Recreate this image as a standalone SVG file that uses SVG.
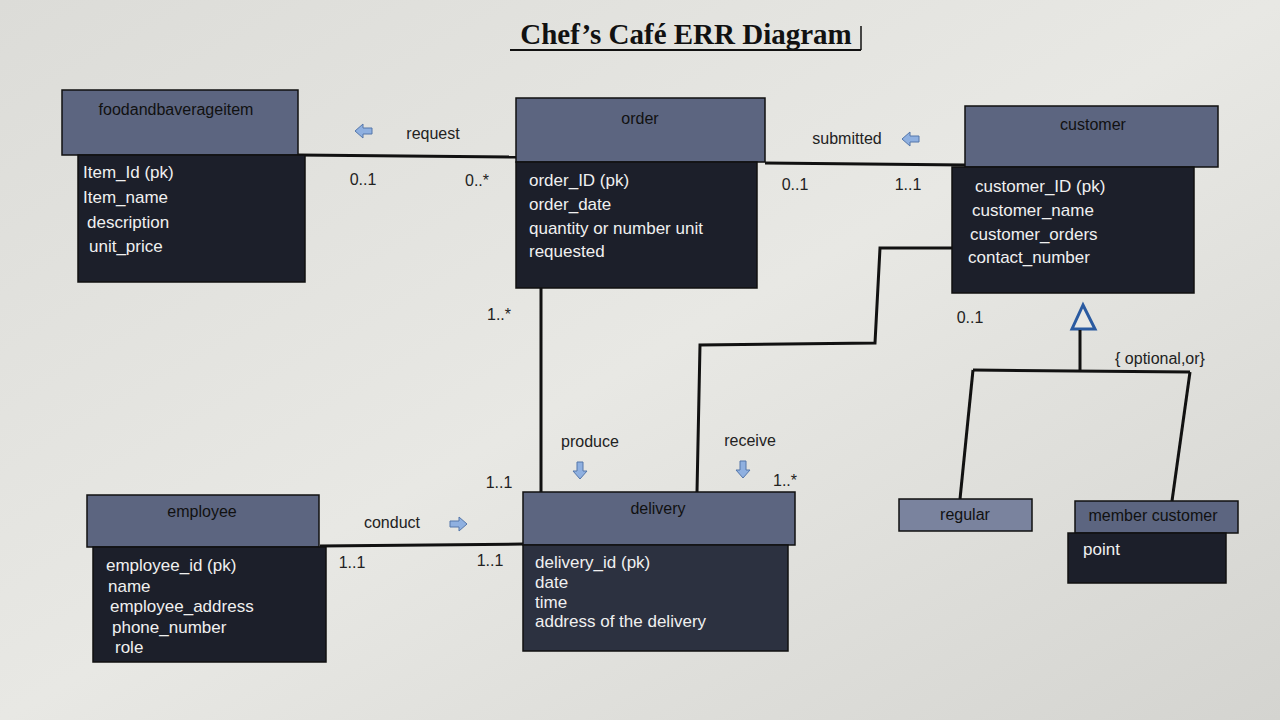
<svg xmlns="http://www.w3.org/2000/svg" width="1280" height="720" viewBox="0 0 1280 720">
<defs>
<linearGradient id="bg" x1="0" y1="0" x2="1" y2="1"><stop offset="0" stop-color="#dcdcd8"/><stop offset="0.5" stop-color="#e8e8e4"/><stop offset="1" stop-color="#d4d4d0"/></linearGradient>
</defs>
<style>
.hd{fill:#5c6580;stroke:#111;stroke-width:1.5}
.bd{fill:#1c1f2a;stroke:#111;stroke-width:1.5}
.ht{font-family:"Liberation Sans",Arial,sans-serif;font-size:16px;fill:#111;text-anchor:middle}
.at{font-family:"Liberation Sans",Arial,sans-serif;font-size:17px;fill:#f0f0f0}
.lb{font-family:"Liberation Sans",Arial,sans-serif;font-size:16px;fill:#222}
.cn{stroke:#111;stroke-width:3;fill:none}
.ic{fill:#8fb0e0;stroke:#5577aa;stroke-width:1}
</style>
<rect width="1280" height="720" fill="url(#bg)"/>
<text x="686" y="44" font-family="Liberation Serif,serif" font-size="29" font-weight="bold" text-anchor="middle" fill="#111">Chef’s Café ERR Diagram</text>
<line x1="510" y1="50" x2="861" y2="50" stroke="#111" stroke-width="2"/>
<line x1="861" y1="26" x2="861" y2="50" stroke="#111" stroke-width="1.5"/>
<g id="connectors">
<polyline class="cn" points="298,155 516,157"/>
<polyline class="cn" points="765,163 965,165"/>
<polyline class="cn" points="541,288 541,492"/>
<polyline class="cn" points="952,248 880,248 875,343 700,345 697,492"/>
<polyline class="cn" points="320,546 523,544"/>
<polygon points="1083,305 1072,329 1095,329" fill="#e8e8e4" stroke="#2a5aa0" stroke-width="3"/>
<polyline class="cn" points="1080,330 1080,370"/>
<polyline class="cn" points="973,370 1190,372"/>
<polyline class="cn" points="973,370 960,499"/>
<polyline class="cn" points="1190,372 1172,501"/>
</g>
<g id="foodandbaverageitem">
<rect class="hd" x="62" y="90" width="236" height="65"/>
<rect class="bd" x="78" y="155" width="227" height="127"/>
<text class="ht" x="176" y="115">foodandbaverageitem</text>
<text class="at" x="83" y="178">Item_Id (pk)</text>
<text class="at" x="83" y="203">Item_name</text>
<text class="at" x="87" y="228">description</text>
<text class="at" x="89" y="252">unit_price</text>
</g>
<g id="order">
<rect class="hd" x="516" y="98" width="249" height="64"/>
<rect class="bd" x="516" y="162" width="241" height="126"/>
<text class="ht" x="640" y="124">order</text>
<text class="at" x="529" y="186">order_ID (pk)</text>
<text class="at" x="529" y="210">order_date</text>
<text class="at" x="529" y="234">quantity or number unit</text>
<text class="at" x="529" y="257">requested</text>
</g>
<g id="customer">
<rect class="hd" x="965" y="106" width="253" height="61"/>
<rect class="bd" x="952" y="167" width="242" height="126"/>
<text class="ht" x="1093" y="130">customer</text>
<text class="at" x="975" y="192">customer_ID (pk)</text>
<text class="at" x="972" y="216">customer_name</text>
<text class="at" x="970" y="240">customer_orders</text>
<text class="at" x="968" y="263">contact_number</text>
</g>
<g id="employee">
<rect class="hd" x="87" y="495" width="232" height="52"/>
<rect class="bd" x="93" y="547" width="233" height="115" fill="#2c3140"/>
<text class="ht" x="202" y="517">employee</text>
<text class="at" x="106" y="571" font-size="16">employee_id (pk)</text>
<text class="at" x="108" y="592" font-size="16" fill="#ccc">name</text>
<text class="at" x="110" y="612" font-size="16" fill="#ccc">employee_address</text>
<text class="at" x="112" y="633" font-size="16" fill="#ccc">phone_number</text>
<text class="at" x="115" y="653" font-size="16" fill="#ccc">role</text>
</g>
<g id="delivery">
<rect class="hd" x="523" y="492" width="272" height="53" fill="#7a839e"/>
<rect class="bd" x="523" y="545" width="265" height="106" style="fill:#2c3140"/>
<text class="ht" x="658" y="514">delivery</text>
<text class="at" x="535" y="568" font-size="16">delivery_id (pk)</text>
<text class="at" x="535" y="588" font-size="16" fill="#ddd">date</text>
<text class="at" x="535" y="608" font-size="16" fill="#ddd">time</text>
<text class="at" x="535" y="627" font-size="16" fill="#ddd">address of the delivery</text>
</g>
<g id="regular">
<rect class="hd" x="899" y="499" width="133" height="32" style="fill:#7a839e"/>
<text class="ht" x="965" y="520">regular</text>
</g>
<g id="member_customer">
<rect class="hd" x="1075" y="501" width="163" height="32" style="fill:#5c6580"/>
<rect class="bd" x="1068" y="533" width="158" height="50"/>
<text class="ht" x="1153" y="521" font-size="15">member customer</text>
<text class="at" x="1083" y="555" font-size="15" fill="#ccc">point</text>
</g>
<g id="labels">
<text class="lb" x="433" y="139" text-anchor="middle">request</text>
<polygon class="ic" points="355,131 363,124 363,128 372,128 372,134 363,134 363,138"/>
<text class="lb" x="847" y="144" text-anchor="middle">submitted</text>
<polygon class="ic" points="902,139 910,132 910,136 919,136 919,142 910,142 910,146"/>
<text class="lb" x="363" y="185" text-anchor="middle">0..1</text>
<text class="lb" x="477" y="186" text-anchor="middle">0..*</text>
<text class="lb" x="795" y="190" text-anchor="middle">0..1</text>
<text class="lb" x="908" y="190" text-anchor="middle">1..1</text>
<text class="lb" x="499" y="320" text-anchor="middle">1..*</text>
<text class="lb" x="970" y="323" text-anchor="middle">0..1</text>
<text class="lb" x="1160" y="364" text-anchor="middle" font-size="15">{ optional,or}</text>
<text class="lb" x="590" y="447" text-anchor="middle" font-size="15">produce</text>
<polygon class="ic" points="580,479 573,471 577,471 577,462 583,462 583,471 587,471"/>
<text class="lb" x="750" y="446" text-anchor="middle" font-size="15">receive</text>
<polygon class="ic" points="743,478 736,470 740,470 740,461 746,461 746,470 750,470"/>
<text class="lb" x="499" y="488" text-anchor="middle" font-size="15">1..1</text>
<text class="lb" x="785" y="486" text-anchor="middle" font-size="15">1..*</text>
<text class="lb" x="392" y="528" text-anchor="middle" font-size="15">conduct</text>
<polygon class="ic" points="467,524 459,517 459,521 450,521 450,527 459,527 459,531"/>
<text class="lb" x="352" y="568" text-anchor="middle" font-size="15">1..1</text>
<text class="lb" x="490" y="566" text-anchor="middle" font-size="15">1..1</text>
</g>
</svg>
